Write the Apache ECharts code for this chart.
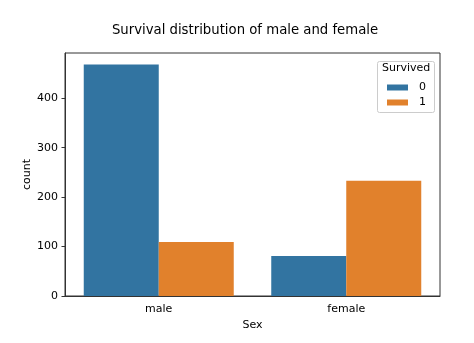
<!DOCTYPE html>
<html><head><meta charset="utf-8">
<script src="https://cdn.jsdelivr.net/npm/echarts@6/dist/echarts.min.js"></script>
<style>html,body{margin:0;padding:0;background:#fff}#c{width:474px;height:343px}</style>
</head><body><div id="c"></div>
<script>
const categories = ['male', 'female'];
const survived0 = [468, 81];
const survived1 = [109, 233];
const legendLabels = ['0', '1'];
const yTicks = [0, 100, 200, 300, 400];

const font = 'DejaVu Sans';
const chart = echarts.init(document.getElementById('c'));
chart.setOption({
  animation: false,
  backgroundColor: '#fff',
  title: {
    text: 'Survival distribution of male and female',
    left: 240, top: 19, textAlign: 'center',
    textStyle: {fontFamily: font, fontSize: 13.25, fontWeight: 'normal', color: '#000'}
  },
  grid: {left: 65, right: 34, top: 53, bottom: 47, show: true, borderColor: '#333', borderWidth: 1},
  legend: {
    data: legendLabels, orient: 'vertical', left: 382, top: 77,
    itemWidth: 21, itemHeight: 6, itemGap: 4, icon: 'rect',
    textStyle: {fontFamily: font, fontSize: 11, color: '#000', padding: [0, 0, 0, 6]}
  },
  graphic: [
    {type: 'rect', shape: {x: 377.5, y: 61.5, width: 57, height: 51, r: 2}, style: {fill: 'rgba(255,255,255,0.8)', stroke: '#ccc', lineWidth: 1}, z: 0},
    {type: 'text', left: 382, top: 62.5, style: {text: 'Survived', font: '11px DejaVu Sans', fill: '#000'}, z: 10}
  ],
  xAxis: {
    type: 'category', data: categories,
    name: 'Sex', nameLocation: 'middle', nameGap: 24, nameMoveOverlap: false,
    nameTextStyle: {fontFamily: font, fontSize: 11, color: '#000'},
    axisLine: {lineStyle: {color: '#333'}},
    axisTick: {alignWithLabel: true, length: 3.5, lineStyle: {color: '#333'}},
    axisLabel: {fontFamily: font, fontSize: 11, color: '#000', margin: 8}
  },
  yAxis: {
    type: 'value', min: 0, max: 491.4, interval: 100,
    name: 'count', nameLocation: 'middle', nameGap: 32, nameMoveOverlap: false,
    nameTextStyle: {fontFamily: font, fontSize: 11, color: '#000'},
    axisLine: {show: true, lineStyle: {color: '#333'}},
    axisTick: {show: true, length: 3.5, lineStyle: {color: '#333'}},
    axisLabel: {fontFamily: font, fontSize: 11, color: '#000', margin: 7, showMaxLabel: false},
    splitLine: {show: false}
  },
  series: [
    {name: legendLabels[0], type: 'bar', data: survived0, itemStyle: {color: '#3274a1'}, barGap: '0%', barCategoryGap: '20%'},
    {name: legendLabels[1], type: 'bar', data: survived1, itemStyle: {color: '#e1812c'}, barGap: '0%', barCategoryGap: '20%'}
  ]
});
</script></body></html>
